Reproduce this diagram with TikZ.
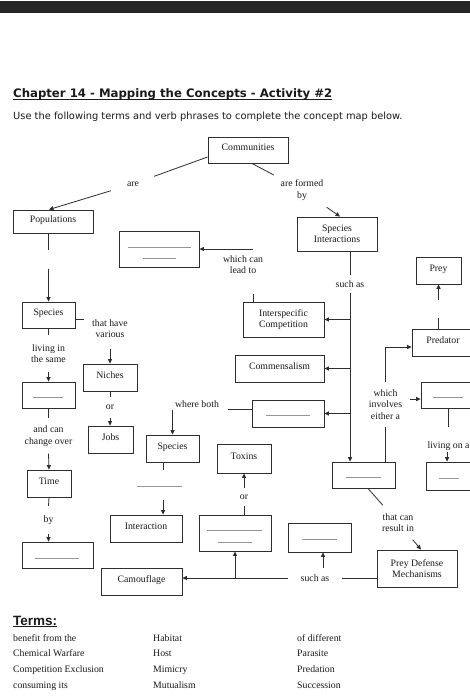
\documentclass[tikz,border=0pt]{standalone}
\usepackage{fontspec}
\setmainfont{Liberation Serif}
\newfontfamily\titlefont{DejaVu Sans}
\newfontfamily\termsfont{Liberation Sans}
\usetikzlibrary{arrows.meta,calc}
\definecolor{linec}{HTML}{2E2E2E}
\definecolor{textc}{HTML}{1A1A1A}
\definecolor{blankc}{HTML}{949494}
\definecolor{barc}{HTML}{262626}
\newcommand\blankln[4]{\draw[blank] ($(#1.center)+(#2,#3)$) -- ++(#4,0);}
\begin{document}
\begin{tikzpicture}[x=1pt,y=-1pt,
  nodefont/.style={font=\fontsize{9.8}{11.6}\selectfont},
  box/.style={draw=linec, line width=0.9pt, inner sep=1pt, nodefont, text=textc},
  one/.style={text height=7pt, text depth=5.5pt},
  lab/.style={inner sep=0pt, nodefont, text=textc, align=center},
  ln/.style={draw=linec, line width=0.8pt},
  arr/.style={draw=linec, line width=0.8pt, -{Triangle[length=4.5pt,width=4.2pt]}},
  blank/.style={draw=blankc, line width=0.85pt},
  termtext/.style={inner sep=0pt, anchor=base west, font=\fontsize{9.8}{11}\selectfont, text=textc}
]
\useasboundingbox (0,0) rectangle (470,700);
\fill[white] (0,0) rectangle (470,700);
\fill[barc] (0,1.5) rectangle (470,13.5);

% header
\node[inner sep=0pt, anchor=base west, font=\titlefont\bfseries\fontsize{11.7}{13}\selectfont, text=textc] (title) at (13,97.3) {Chapter 14 - Mapping the Concepts - Activity \#2};
\draw[textc, line width=1.1pt] ($(title.base west)+(0,1.8)$) -- ($(title.base east)+(0,1.8)$);
\node[inner sep=0pt, anchor=base west, font=\titlefont\fontsize{9.85}{11}\selectfont, text=textc] (sub) at (13,119.5) {Use the following terms and verb phrases to complete the concept map below.};

% boxes
\node[box,one,minimum width=80pt,minimum height=26pt] (comm) at (248,150) {Communities};
\node[box,one,minimum width=80pt,minimum height=23pt] (pop) at (53,221.5) {Populations};
\node[box,minimum width=80pt,minimum height=36pt] (blankA) at (159,249) {};
\node[box,align=center,minimum width=80pt,minimum height=34pt] (sint) at (337,234) {Species\\Interactions};
\node[box,one,minimum width=45pt,minimum height=27pt] (prey) at (438.5,270.5) {Prey};
\node[box,one,minimum width=53pt,minimum height=26pt] (sp1) at (48.5,315) {Species};
\node[box,align=center,minimum width=81pt,minimum height=35pt] (isc) at (283.5,319.5) {Interspecific\\Competition};
\node[box,one,minimum width=62pt,minimum height=27pt] (pred) at (443,342.5) {Predator};
\node[box,one,minimum width=54pt,minimum height=27pt] (niches) at (110,377.5) {Niches};
\node[box,one,minimum width=89pt,minimum height=27pt] (comms) at (279.5,368.5) {Commensalism};
\node[box,minimum width=53pt,minimum height=26pt] (blank1) at (48.5,395) {};
\node[box,minimum width=72pt,minimum height=27pt] (blankB) at (288,413.5) {};
\node[box,minimum width=54pt,minimum height=26pt] (blankF) at (448,395) {};
\node[box,one,minimum width=45pt,minimum height=27pt] (jobs) at (110.5,439.5) {Jobs};
\node[box,one,minimum width=53pt,minimum height=27pt] (sp2) at (172.5,448.5) {Species};
\node[box,one,minimum width=54pt,minimum height=29pt] (toxins) at (244,458.5) {Toxins};
\node[box,minimum width=63pt,minimum height=26pt] (blankC) at (363.5,475) {};
\node[box,minimum width=46pt,minimum height=28pt] (blankG) at (449,476) {};
\node[box,one,minimum width=44pt,minimum height=27pt] (time) at (49,483.5) {Time};
\node[box,one,minimum width=72pt,minimum height=27pt] (inter) at (146,528.5) {Interaction};
\node[box,minimum width=72pt,minimum height=36pt] (blankD) at (235,533) {};
\node[box,minimum width=63pt,minimum height=29pt] (blankE) at (319.5,537.5) {};
\node[box,minimum width=71pt,minimum height=26pt] (blank2) at (57.5,555) {};
\node[box,align=center,minimum width=80pt,minimum height=37pt] (pdm) at (417,568.5) {Prey Defense\\Mechanisms};
\node[box,one,minimum width=81pt,minimum height=27pt] (camo) at (141.5,581.5) {Camouflage};

% blank lines inside boxes
\blankln{blank1}{-15.5}{2}{30}
\blankln{blank2}{-22.5}{3}{44}
\blankln{blankA}{-31}{-2}{63}
\blankln{blankA}{-16}{9}{33}
\blankln{blankB}{-22}{1.5}{44}
\blankln{blankD}{-28}{-3}{55}
\blankln{blankD}{-17}{9}{34}
\blankln{blankE}{-17.5}{1.5}{35}
\blankln{blankC}{-17.5}{2}{35}
\blankln{blankF}{-15}{2}{30}
\blankln{blankG}{-10}{2}{20}

% labels
\node[lab, minimum width=44pt, minimum height=15pt] (lare) at (133,184) {are};
\node[lab, minimum width=56pt, minimum height=34pt] (lformed) at (302,190) {are formed\\by};
\node[lab] (lhave) at (110,328.5) {that have\\various};
\node[lab, minimum height=36pt] (lliving) at (48.5,353.5) {living in\\the same};
\node[lab, minimum height=35pt] (lchange) at (48.5,436) {and can\\change over};
\node[lab, minimum height=28pt] (lby) at (48.5,520) {by};
\node[lab, minimum height=21pt] (lor1) at (110,407.5) {or};
\node[lab, minimum height=18pt] (lsuch1) at (350,284) {such as};
\node[lab] (llead) at (243,264.5) {which can\\lead to};
\node[lab] (lwhere) at (197,404) {where both};
\node[lab, minimum height=18pt] (lor2) at (244,497) {or};
\node[lab, minimum width=54pt] (lsuch2) at (315,578) {such as};
\node[lab, minimum height=34pt] (lresult) at (398,522.5) {that can\\result in};
\node[lab, minimum height=45pt] (linv) at (385.5,404.5) {which\\involves\\either a};
\node[lab] (lliv2) at (448.5,446) {living on a};

% connectors
\draw[ln] ($(comm.west)+(0,7)$) -- (lare);
\draw[arr] (lare) -- ($(pop.north)+(-4,0)$);
\draw[ln] ($(comm.south)+(4,0)$) -- (lformed);
\draw[arr] (lformed) -- ($(sint.north)+(3,0)$);
\draw[ln] (pop.south -| sp1.north) -- ++(0,17);
\draw[arr] ($(sp1.north)+(0,-33)$) -- (sp1.north);
\draw[ln] ($(sp1.east)+(0,4)$) -- ++(9,0);
\draw[arr] ($(niches.north)+(0,-15)$) -- (niches.north);
\draw[ln] (sp1.south) -- (lliving.north);
\draw[arr] (lliving.south) -- (blank1.north);
\draw[ln] (blank1.south) -- (lchange.north);
\draw[arr] (lchange.south) -- (time.north);
\draw[ln] (time.south) -- (lby.north);
\draw[arr] (lby.south) -- (lby.south |- blank2.north);
\draw[ln] (niches.south) -- (lor1.north);
\draw[arr] (lor1.south) -- (lor1.south |- jobs.north);

\draw[ln] (sint.south -| lsuch1.north) -- (lsuch1.north);
\draw[arr] (lsuch1.south) -- (lsuch1.south |- blankC.north);
\draw[arr] (lsuch1 |- isc.east) -- (isc.east);
\draw[arr] (lsuch1 |- comms.east) -- (comms.east);
\draw[arr] (lsuch1 |- blankB.east) -- (blankB.east);

\draw[ln] ($(isc.north)+(-30.5,0)$) -- ++(0,-8);
\draw[arr] ($(blankA.east)+(54,0)$) -- (blankA.east);

\draw[ln] ($(blankB.west)+(0,-4.5)$) -- ++(-24,0);
\draw[arr] ($(sp2.north)+(0,-25)$) -- (sp2.north);

\draw[ln] ($(sp2.south)+(-9.5,0)$) -- ++(0,8);
\draw[blank] ($(sp2.south)+(-35.5,24)$) -- ++(45,0);
\draw[arr] ($(inter.north)+(17,-15)$) -- ($(inter.north)+(17,0)$);

\draw[ln] (toxins.south |- blankD.north) -- (lor2.south);
\draw[arr] (lor2.north) -- (toxins.south);

\draw[ln] (pdm.west |- lsuch2.east) -- (lsuch2.east);
\draw[arr] (lsuch2.west) -- (lsuch2.west -| camo.east);
\draw[arr] (lsuch2.west -| blankD.south) -- (blankD.south);
\draw[arr] ($(blankE.south)+(3.5,16)$) -- ($(blankE.south)+(3.5,0)$);

\draw[ln] ($(blankC.south)+(4.5,0)$) -- (lresult);
\draw[arr] (lresult) -- ($(pdm.north)+(4,0)$);

\draw[ln] (linv.south |- blankC.north) -- (linv.south);
\draw[arr] (linv.north) |- ($(pred.west)+(0,4.5)$);
\draw[arr] ($(blankF.west)+(-11,4)$) -- ($(blankF.west)+(0,4)$);

\draw[ln] (pred.north -| prey.south) -- ++(0,-11);
\draw[arr] ($(prey.south)+(0,16)$) -- (prey.south);

\draw[ln] (blankF.south) -- ++(0,19);
\draw[arr] ($(blankG.north)+(-2,-10)$) -- ($(blankG.north)+(-2,0)$);

% terms
\node[inner sep=0pt, anchor=base west, font=\termsfont\bfseries\fontsize{13.5}{15}\selectfont, text=textc] (terms) at (13,625) {Terms:};
\draw[textc, line width=1.2pt] ($(terms.base west)+(0,1.6)$) -- ($(terms.base east)+(0,1.6)$);
\node[termtext] (t11) at (13,641.5) {benefit from the};
\node[termtext] (t12) at (13,656.5) {Chemical Warfare};
\node[termtext] (t13) at (13,672.5) {Competition Exclusion};
\node[termtext] (t14) at (13,688.5) {consuming its};
\node[termtext] (t21) at (153,641.5) {Habitat};
\node[termtext] (t22) at (153,656.5) {Host};
\node[termtext] (t23) at (153,672.5) {Mimicry};
\node[termtext] (t24) at (153,688.5) {Mutualism};
\node[termtext] (t31) at (297,641.5) {of different};
\node[termtext] (t32) at (297,656.5) {Parasite};
\node[termtext] (t33) at (297,672.5) {Predation};
\node[termtext] (t34) at (297,688.5) {Succession};
\end{tikzpicture}
\end{document}
